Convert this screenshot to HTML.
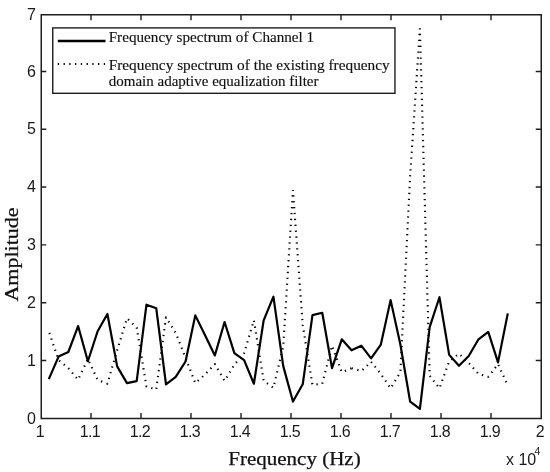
<!DOCTYPE html>
<html><head><meta charset="utf-8"><title>Frequency spectrum</title>
<style>
html,body{margin:0;padding:0;background:#fff;}
body{width:550px;height:472px;overflow:hidden;}
svg{display:block;}
.tl{font-family:"Liberation Sans",Arial,sans-serif;font-size:16px;fill:#1a1a1a;}
.lg{font-family:"Liberation Serif","Times New Roman",serif;font-size:15px;fill:#111;stroke:#111;stroke-width:0.15px;}
.al{font-family:"Liberation Serif","Times New Roman",serif;font-size:19.5px;fill:#111;stroke:#111;stroke-width:0.25px;}
</style></head>
<body>
<svg width="550" height="472" viewBox="0 0 550 472">
<rect x="0" y="0" width="550" height="472" fill="#fff"/>
<g fill="none" stroke="#000" stroke-linejoin="round">
<g stroke-width="2.1" stroke-dasharray="1.3 4.6" stroke-dashoffset="0.65">
<path d="M292.95,190.01 L283.19,346.81 L273.42,387.75 L263.66,380.83 L253.89,320.30 L244.12,353.16 L234.36,364.69 L224.59,380.83 L214.83,364.11 L205.06,374.49 L195.30,383.13 L185.53,357.77 L175.77,332.98 L166.00,317.41 L156.23,389.48 L146.47,386.59 L136.70,327.50 L126.94,318.28 L117.17,350.27 L107.41,383.71 L97.64,379.96 L87.88,358.92 L78.11,379.67 L68.34,368.14 L58.58,360.07 L48.81,331.25"/>
<path d="M292.95,190.01 L302.72,324.91 L312.48,384.86 L322.25,383.71 L332.02,345.66 L341.78,372.18 L351.55,368.14"/>
<path d="M419.91,28.59 L410.14,176.17 L400.38,372.18 L390.61,388.32 L380.84,373.91 L371.08,361.80 L361.31,371.03 L351.55,368.14"/>
<path d="M419.91,28.59 L429.67,375.64 L439.44,388.32 L449.20,361.23 L458.97,353.73 L468.73,362.96 L478.50,373.91 L488.27,376.79 L498.03,364.11 L507.80,385.44"/>
</g>
<path d="M48.81,379.10 L58.58,356.61 L68.34,352.00 L78.11,326.06 L87.88,361.23 L97.64,331.25 L107.41,313.95 L117.17,366.42 L126.94,383.13 L136.70,381.12 L146.47,304.73 L156.23,308.19 L166.00,384.29 L175.77,376.79 L185.53,361.51 L195.30,315.39 L205.06,335.28 L214.83,355.46 L224.59,322.02 L234.36,353.16 L244.12,360.07 L253.89,383.71 L263.66,320.30 L273.42,296.66 L283.19,365.84 L292.95,401.58 L302.72,384.29 L312.48,315.11 L322.25,312.80 L332.02,368.14 L341.78,339.32 L351.55,350.27 L361.31,345.66 L371.08,358.34 L380.84,344.51 L390.61,300.12 L400.38,344.51 L410.14,401.58 L419.91,408.79 L429.67,327.21 L439.44,297.24 L449.20,354.88 L458.97,365.84 L468.73,356.04 L478.50,339.32 L488.27,331.82 L498.03,362.38 L507.80,313.38" stroke-width="2.2"/>
</g>
<g fill="none" stroke="#1e1e1e" stroke-width="1.5">
<rect x="41.25" y="14.75" width="500" height="403.75"/>
<path d="M91.00 418.50V413.00 M91.00 14.75V20.25 M141.00 418.50V413.00 M141.00 14.75V20.25 M191.00 418.50V413.00 M191.00 14.75V20.25 M241.00 418.50V413.00 M241.00 14.75V20.25 M291.00 418.50V413.00 M291.00 14.75V20.25 M341.00 418.50V413.00 M341.00 14.75V20.25 M391.00 418.50V413.00 M391.00 14.75V20.25 M441.00 418.50V413.00 M441.00 14.75V20.25 M491.00 418.50V413.00 M491.00 14.75V20.25 M41.25 360.50H46.25 M541.25 360.50H535.75 M41.25 302.75H46.25 M541.25 302.75H535.75 M41.25 244.85H46.25 M541.25 244.85H535.75 M41.25 186.95H46.25 M541.25 186.95H535.75 M41.25 129.20H46.25 M541.25 129.20H535.75 M41.25 71.50H46.25 M541.25 71.50H535.75" stroke-width="1.4"/>
</g>
<g class="tl">
<text x="40.25" y="436.5" text-anchor="middle">1</text><text x="90.25" y="436.5" text-anchor="middle" textLength="21" lengthAdjust="spacing">1.1</text><text x="140.25" y="436.5" text-anchor="middle" textLength="21" lengthAdjust="spacing">1.2</text><text x="190.25" y="436.5" text-anchor="middle" textLength="21" lengthAdjust="spacing">1.3</text><text x="240.25" y="436.5" text-anchor="middle" textLength="21" lengthAdjust="spacing">1.4</text><text x="290.25" y="436.5" text-anchor="middle" textLength="21" lengthAdjust="spacing">1.5</text><text x="340.25" y="436.5" text-anchor="middle" textLength="21" lengthAdjust="spacing">1.6</text><text x="390.25" y="436.5" text-anchor="middle" textLength="21" lengthAdjust="spacing">1.7</text><text x="440.25" y="436.5" text-anchor="middle" textLength="21" lengthAdjust="spacing">1.8</text><text x="490.25" y="436.5" text-anchor="middle" textLength="21" lengthAdjust="spacing">1.9</text><text x="540.25" y="436.5" text-anchor="middle">2</text>
<text x="35.8" y="423.50" text-anchor="end">0</text><text x="35.8" y="365.50" text-anchor="end">1</text><text x="35.8" y="307.75" text-anchor="end">2</text><text x="35.8" y="249.85" text-anchor="end">3</text><text x="35.8" y="191.95" text-anchor="end">4</text><text x="35.8" y="134.20" text-anchor="end">5</text><text x="35.8" y="76.50" text-anchor="end">6</text><text x="35.8" y="19.75" text-anchor="end">7</text>
<text x="506" y="465">x 10</text>
<text x="534.5" y="454.5" style="font-size:10.5px">4</text>
</g>
<rect x="52.75" y="27.9" width="342.2" height="65.4" fill="#fff" stroke="#1e1e1e" stroke-width="1.4"/>
<path d="M57.8 41H105.5" stroke="#000" stroke-width="2.3"/>
<path d="M57.8 64H106" stroke="#000" stroke-width="2.1" stroke-dasharray="1.3 4.45"/>
<g class="lg">
<text x="108.7" y="42.4" textLength="205.5" lengthAdjust="spacingAndGlyphs">Frequency spectrum of Channel 1</text>
<text x="108.7" y="70" textLength="281" lengthAdjust="spacingAndGlyphs">Frequency spectrum of the existing frequency</text>
<text x="108.7" y="86" textLength="209.8" lengthAdjust="spacingAndGlyphs">domain adaptive equalization filter</text>
</g>
<text class="al" x="228.2" y="464.5" textLength="132.5" lengthAdjust="spacingAndGlyphs">Frequency (Hz)</text>
<text class="al" transform="translate(18.2,301.5) rotate(-90)" x="0" y="0" textLength="94" lengthAdjust="spacingAndGlyphs">Amplitude</text>
</svg>
</body></html>
